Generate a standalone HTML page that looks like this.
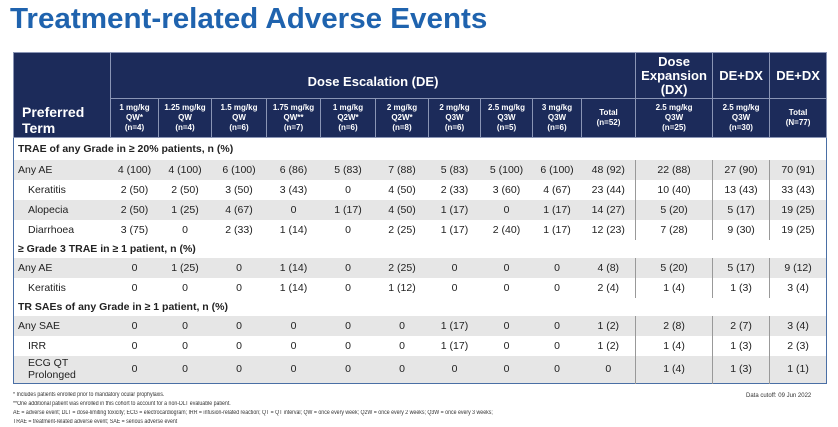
<!DOCTYPE html>
<html><head><meta charset="utf-8"><style>
*{margin:0;padding:0;box-sizing:border-box}
body{width:838px;height:427px;background:#fff;font-family:"Liberation Sans",Arial,sans-serif;position:relative;overflow:hidden}
.title{position:absolute;left:10px;top:3px;font-size:29px;font-weight:bold;color:#1f63ae;white-space:nowrap;transform:scaleX(1.02);transform-origin:left top}
table{position:absolute;left:13px;top:52px;border-collapse:collapse;table-layout:fixed;width:813px;border:1px solid #4a6fa5}
td{padding:0;text-align:center;font-size:10.5px;color:#222;white-space:nowrap}
.h td{background:#1c2b5a;color:#fff;font-weight:bold;border:1px solid #8a95b5}
.h1 td{height:46px;font-size:13px}
.h2 td{height:39px;font-size:8px;line-height:10px}
.pt{font-size:14px!important;text-align:left!important;padding-left:8px!important;vertical-align:bottom;padding-bottom:1px!important;line-height:16px}
.sec td{text-align:left;font-weight:bold;font-size:10.5px;padding-left:4px;height:18px;background:#fff}
.r td{height:20px}
.g td{background:#e6e6e6}
.r td:first-child{text-align:left;padding-left:4px}
.i td:first-child{padding-left:14px!important}
.r td:nth-child(11),.r td:nth-child(12),.r td:nth-child(13){border-right:1px solid #999}
.tall td{height:28px;line-height:12px}
.fn{position:absolute;left:13px;font-size:6px;color:#333;white-space:nowrap;transform:scaleX(0.87);transform-origin:left top}
</style></head><body>
<div class="title">Treatment-related Adverse Events</div>
<table>
<colgroup><col style="width:97px"><col style="width:48px"><col style="width:53px"><col style="width:55px"><col style="width:54px"><col style="width:55px"><col style="width:53px"><col style="width:52px"><col style="width:52px"><col style="width:49px"><col style="width:54px"><col style="width:77px"><col style="width:57px"><col style="width:57px"></colgroup>
<tr class="h h1"><td rowspan="2" class="pt">Preferred<br>Term</td><td colspan="10" style="padding-top:12px">Dose Escalation (DE)</td><td style="line-height:14px">Dose<br>Expansion<br>(DX)</td><td>DE+DX</td><td>DE+DX</td></tr>
<tr class="h h2"><td>1 mg/kg<br>QW*<br>(n=4)</td><td>1.25 mg/kg<br>QW<br>(n=4)</td><td>1.5 mg/kg<br>QW<br>(n=6)</td><td>1.75 mg/kg<br>QW**<br>(n=7)</td><td>1 mg/kg<br>Q2W*<br>(n=6)</td><td>2 mg/kg<br>Q2W*<br>(n=8)</td><td>2 mg/kg<br>Q3W<br>(n=6)</td><td>2.5 mg/kg<br>Q3W<br>(n=5)</td><td>3 mg/kg<br>Q3W<br>(n=6)</td><td>Total<br>(n=52)</td><td>2.5 mg/kg<br>Q3W<br>(n=25)</td><td>2.5 mg/kg<br>Q3W<br>(n=30)</td><td>Total<br>(N=77)</td></tr>
<tr class="sec"><td colspan="14" style="height:22px">TRAE of any Grade in ≥ 20% patients, n (%)</td></tr>
<tr class="r g"><td>Any AE</td><td>4 (100)</td><td>4 (100)</td><td>6 (100)</td><td>6 (86)</td><td>5 (83)</td><td>7 (88)</td><td>5 (83)</td><td>5 (100)</td><td>6 (100)</td><td>48 (92)</td><td>22 (88)</td><td>27 (90)</td><td>70 (91)</td></tr>
<tr class="r i"><td>Keratitis</td><td>2 (50)</td><td>2 (50)</td><td>3 (50)</td><td>3 (43)</td><td>0</td><td>4 (50)</td><td>2 (33)</td><td>3 (60)</td><td>4 (67)</td><td>23 (44)</td><td>10 (40)</td><td>13 (43)</td><td>33 (43)</td></tr>
<tr class="r g i"><td>Alopecia</td><td>2 (50)</td><td>1 (25)</td><td>4 (67)</td><td>0</td><td>1 (17)</td><td>4 (50)</td><td>1 (17)</td><td>0</td><td>1 (17)</td><td>14 (27)</td><td>5 (20)</td><td>5 (17)</td><td>19 (25)</td></tr>
<tr class="r i"><td>Diarrhoea</td><td>3 (75)</td><td>0</td><td>2 (33)</td><td>1 (14)</td><td>0</td><td>2 (25)</td><td>1 (17)</td><td>2 (40)</td><td>1 (17)</td><td>12 (23)</td><td>7 (28)</td><td>9 (30)</td><td>19 (25)</td></tr>
<tr class="sec"><td colspan="14">≥ Grade 3 TRAE in ≥ 1 patient, n (%)</td></tr>
<tr class="r g"><td>Any AE</td><td>0</td><td>1 (25)</td><td>0</td><td>1 (14)</td><td>0</td><td>2 (25)</td><td>0</td><td>0</td><td>0</td><td>4 (8)</td><td>5 (20)</td><td>5 (17)</td><td>9 (12)</td></tr>
<tr class="r i"><td>Keratitis</td><td>0</td><td>0</td><td>0</td><td>1 (14)</td><td>0</td><td>1 (12)</td><td>0</td><td>0</td><td>0</td><td>2 (4)</td><td>1 (4)</td><td>1 (3)</td><td>3 (4)</td></tr>
<tr class="sec"><td colspan="14">TR SAEs of any Grade in ≥ 1 patient, n (%)</td></tr>
<tr class="r g"><td>Any SAE</td><td>0</td><td>0</td><td>0</td><td>0</td><td>0</td><td>0</td><td>1 (17)</td><td>0</td><td>0</td><td>1 (2)</td><td>2 (8)</td><td>2 (7)</td><td>3 (4)</td></tr>
<tr class="r i"><td>IRR</td><td>0</td><td>0</td><td>0</td><td>0</td><td>0</td><td>0</td><td>1 (17)</td><td>0</td><td>0</td><td>1 (2)</td><td>1 (4)</td><td>1 (3)</td><td>2 (3)</td></tr>
<tr class="r g i tall"><td>ECG QT<br>Prolonged</td><td>0</td><td>0</td><td>0</td><td>0</td><td>0</td><td>0</td><td>0</td><td>0</td><td>0</td><td>0</td><td>1 (4)</td><td>1 (3)</td><td>1 (1)</td></tr>
</table>
<div class="fn" style="top:392px">* Includes patients enrolled prior to mandatory ocular prophylaxis.</div>
<div class="fn" style="left:746px;top:393px;transform:none">Data cutoff: 09 Jun 2022</div>
<div class="fn" style="top:401px">**One additional patient was enrolled in this cohort to account for a non-DLT evaluable patient.</div>
<div class="fn" style="top:410px">AE = adverse event; DLT = dose-limiting toxicity; ECG = electrocardiogram; IRR = infusion-related reaction; QT = QT interval; QW = once every week; Q2W = once every 2 weeks; Q3W = once every 3 weeks;</div>
<div class="fn" style="top:419px">TRAE = treatment-related adverse event; SAE = serious adverse event</div>
</body></html>
